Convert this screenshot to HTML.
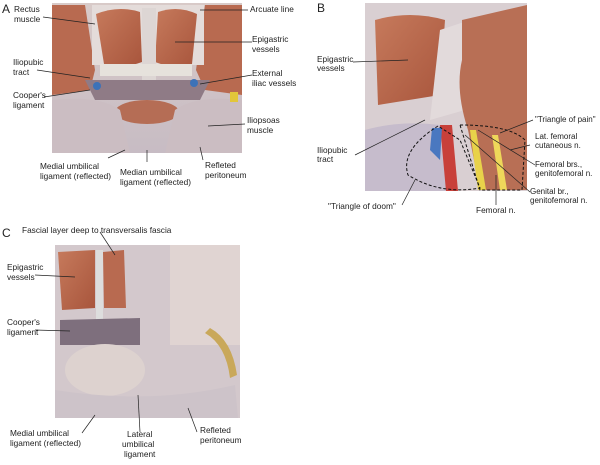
<!DOCTYPE html>
<html><head><style>
body{margin:0;background:#fff;width:600px;height:460px;overflow:hidden}
svg text{font-family:"Liberation Sans",sans-serif;font-size:8.3px;fill:#222}
.big{font-size:12px}
.sm{font-size:8px}
</style></head><body>
<svg width="600" height="460" viewBox="0 0 600 460" xmlns="http://www.w3.org/2000/svg">
<defs>
<linearGradient id="mus" x1="0" y1="0" x2="1" y2="1"><stop offset="0" stop-color="#c67a5c"/><stop offset="1" stop-color="#a8553c"/></linearGradient>
<linearGradient id="pale" x1="0" y1="0" x2="0" y2="1"><stop offset="0" stop-color="#d8cac8"/><stop offset="1" stop-color="#c7bcc4"/></linearGradient>
</defs>
<!-- Panel A -->
<rect x="52" y="3" width="190" height="150" fill="url(#pale)"/>
<path d="M52 5 L85 5 L95 70 L90 90 L52 95Z" fill="#b86a50"/>
<path d="M242 5 L205 5 L196 70 L205 90 L242 95Z" fill="#b86a50"/>
<rect x="92" y="5" width="112" height="60" fill="#e4dcda"/>
<path d="M96 14 Q118 5 140 12 L142 62 Q120 70 104 64Z" fill="url(#mus)"/>
<path d="M158 12 Q178 5 197 14 L192 64 Q176 70 155 62Z" fill="url(#mus)"/>
<rect x="142" y="8" width="14" height="90" fill="#ddd6d4"/>
<rect x="100" y="64" width="92" height="12" fill="#e6e2dc"/>
<path d="M85 80 L210 80 L200 100 L95 100Z" fill="#8f7b86"/>
<ellipse cx="147" cy="112" rx="32" ry="12" fill="#b56d55"/>
<path d="M52 100 Q100 95 120 110 L130 153 L52 153Z" fill="#cbbdc2"/>
<path d="M242 100 Q195 95 175 110 L165 153 L242 153Z" fill="#cbbdc2"/>
<circle cx="97" cy="86" r="4" fill="#3c72b8"/><circle cx="194" cy="83" r="4" fill="#3c72b8"/>
<rect x="230" y="92" width="8" height="10" fill="#e2c63a"/>
<g stroke="#222" stroke-width="0.7" fill="none">
<line x1="43" y1="17" x2="95" y2="24"/><line x1="200" y1="10" x2="248" y2="10"/>
<line x1="175" y1="42" x2="252" y2="42"/><line x1="37" y1="70" x2="90" y2="78"/>
<line x1="200" y1="84" x2="252" y2="75"/><line x1="44" y1="97" x2="90" y2="90"/>
<line x1="208" y1="126" x2="245" y2="124"/><line x1="108" y1="158" x2="125" y2="150"/>
<line x1="147" y1="162" x2="147" y2="150"/><line x1="203" y1="160" x2="200" y2="147"/>
</g>
<text x="2" y="13" class="big">A</text>
<text x="14" y="12">Rectus</text><text x="14" y="22">muscle</text>
<text x="250" y="12">Arcuate line</text>
<text x="252" y="42">Epigastric</text><text x="252" y="52">vessels</text>
<text x="13" y="65">Iliopubic</text><text x="13" y="75">tract</text>
<text x="252" y="76">External</text><text x="252" y="86">iliac vessels</text>
<text x="13" y="98">Cooper's</text><text x="13" y="108">ligament</text>
<text x="247" y="123">Iliopsoas</text><text x="247" y="133">muscle</text>
<text x="40" y="169">Medial umbilical</text><text x="40" y="179">ligament (reflected)</text>
<text x="120" y="175">Median umbilical</text><text x="120" y="185">ligament (reflected)</text>
<text x="205" y="168">Refleted</text><text x="205" y="178">peritoneum</text>
<!-- Panel B -->
<rect x="365" y="3" width="162" height="188" fill="#d9cfd2"/>
<path d="M375 20 Q410 10 445 20 L440 95 L378 105Z" fill="url(#mus)"/>
<path d="M440 30 L470 20 L465 110 L430 120Z" fill="#e2dadb"/>
<path d="M462 20 L527 5 L527 190 L480 190 L468 130 Q455 90 462 60Z" fill="#b86f55"/>
<path d="M365 130 Q400 120 440 125 L455 191 L365 191Z" fill="#c6bccc"/>
<path d="M440 125 L452 125 L458 191 L446 191Z" fill="#c8403a"/>
<path d="M432 128 L442 128 L440 160 L430 150Z" fill="#4a78c0"/>
<path d="M470 130 L478 190 L486 190 L476 130Z" fill="#e8d24a"/>
<path d="M492 135 L500 190 L507 190 L498 135Z" fill="#eed75a"/>
<g stroke="#111" stroke-width="1" stroke-dasharray="3,2" fill="none">
<path d="M438 126 Q400 150 408 175 Q440 195 480 188 L460 140Z"/>
<path d="M460 125 Q510 125 525 140 L522 190 L480 190Z"/>
</g>
<g stroke="#222" stroke-width="0.7" fill="none">
<line x1="353" y1="62" x2="408" y2="60"/><line x1="355" y1="155" x2="425" y2="120"/>
<line x1="500" y1="133" x2="533" y2="120"/><line x1="510" y1="150" x2="530" y2="145"/>
<line x1="478" y1="130" x2="535" y2="165"/><line x1="465" y1="135" x2="530" y2="192"/>
<line x1="496" y1="175" x2="496" y2="205"/><line x1="402" y1="205" x2="415" y2="180"/>
</g>
<text x="317" y="12" class="big">B</text>
<text x="317" y="62">Epigastric</text><text x="317" y="71">vessels</text>
<text x="317" y="153">Iliopubic</text><text x="317" y="162">tract</text>
<text x="535" y="122" class="sm">"Triangle of pain"</text>
<text x="535" y="139" class="sm">Lat. femoral</text><text x="535" y="148" class="sm">cutaneous n.</text>
<text x="535" y="167" class="sm">Femoral brs.,</text><text x="535" y="176" class="sm">genitofemoral n.</text>
<text x="530" y="194" class="sm">Genital br.,</text><text x="530" y="203" class="sm">genitofemoral n.</text>
<text x="328" y="209">"Triangle of doom"</text>
<text x="476" y="213">Femoral n.</text>
<!-- Panel C -->
<rect x="55" y="245" width="185" height="173" fill="#d3c8cc"/>
<rect x="170" y="245" width="70" height="100" fill="#e0d4d2"/>
<path d="M58 252 L95 250 L95 308 L62 310Z" fill="url(#mus)"/>
<path d="M103 252 L124 250 L126 308 L104 308Z" fill="#b86a50"/>
<rect x="96" y="250" width="7" height="70" fill="#ddd"/>
<path d="M60 320 L140 318 L140 345 L60 345Z" fill="#7e6f7d"/>
<ellipse cx="105" cy="370" rx="40" ry="26" fill="#ddd2cf"/>
<path d="M55 390 Q150 405 235 385 L238 418 L55 418Z" fill="#cdc3c9"/>
<path d="M210 328 Q232 340 237 375 L230 378 Q226 345 205 333Z" fill="#c9a85a"/>
<g stroke="#222" stroke-width="0.7" fill="none">
<line x1="100" y1="232" x2="115" y2="255"/><line x1="35" y1="275" x2="75" y2="277"/>
<line x1="35" y1="330" x2="70" y2="331"/><line x1="82" y1="433" x2="95" y2="415"/>
<line x1="140" y1="432" x2="138" y2="395"/><line x1="197" y1="432" x2="188" y2="408"/>
</g>
<text x="2" y="237" class="big">C</text>
<text x="22" y="233">Fascial layer deep to transversalis fascia</text>
<text x="7" y="270">Epigastric</text><text x="7" y="280">vessels</text>
<text x="7" y="325">Cooper's</text><text x="7" y="335">ligament</text>
<text x="10" y="436">Medial umbilical</text><text x="10" y="446">ligament (reflected)</text>
<text x="127" y="437">Lateral</text><text x="122" y="447">umbilical</text><text x="124" y="457">ligament</text>
<text x="200" y="433">Refleted</text><text x="200" y="443">peritoneum</text>
</svg>
</body></html>
